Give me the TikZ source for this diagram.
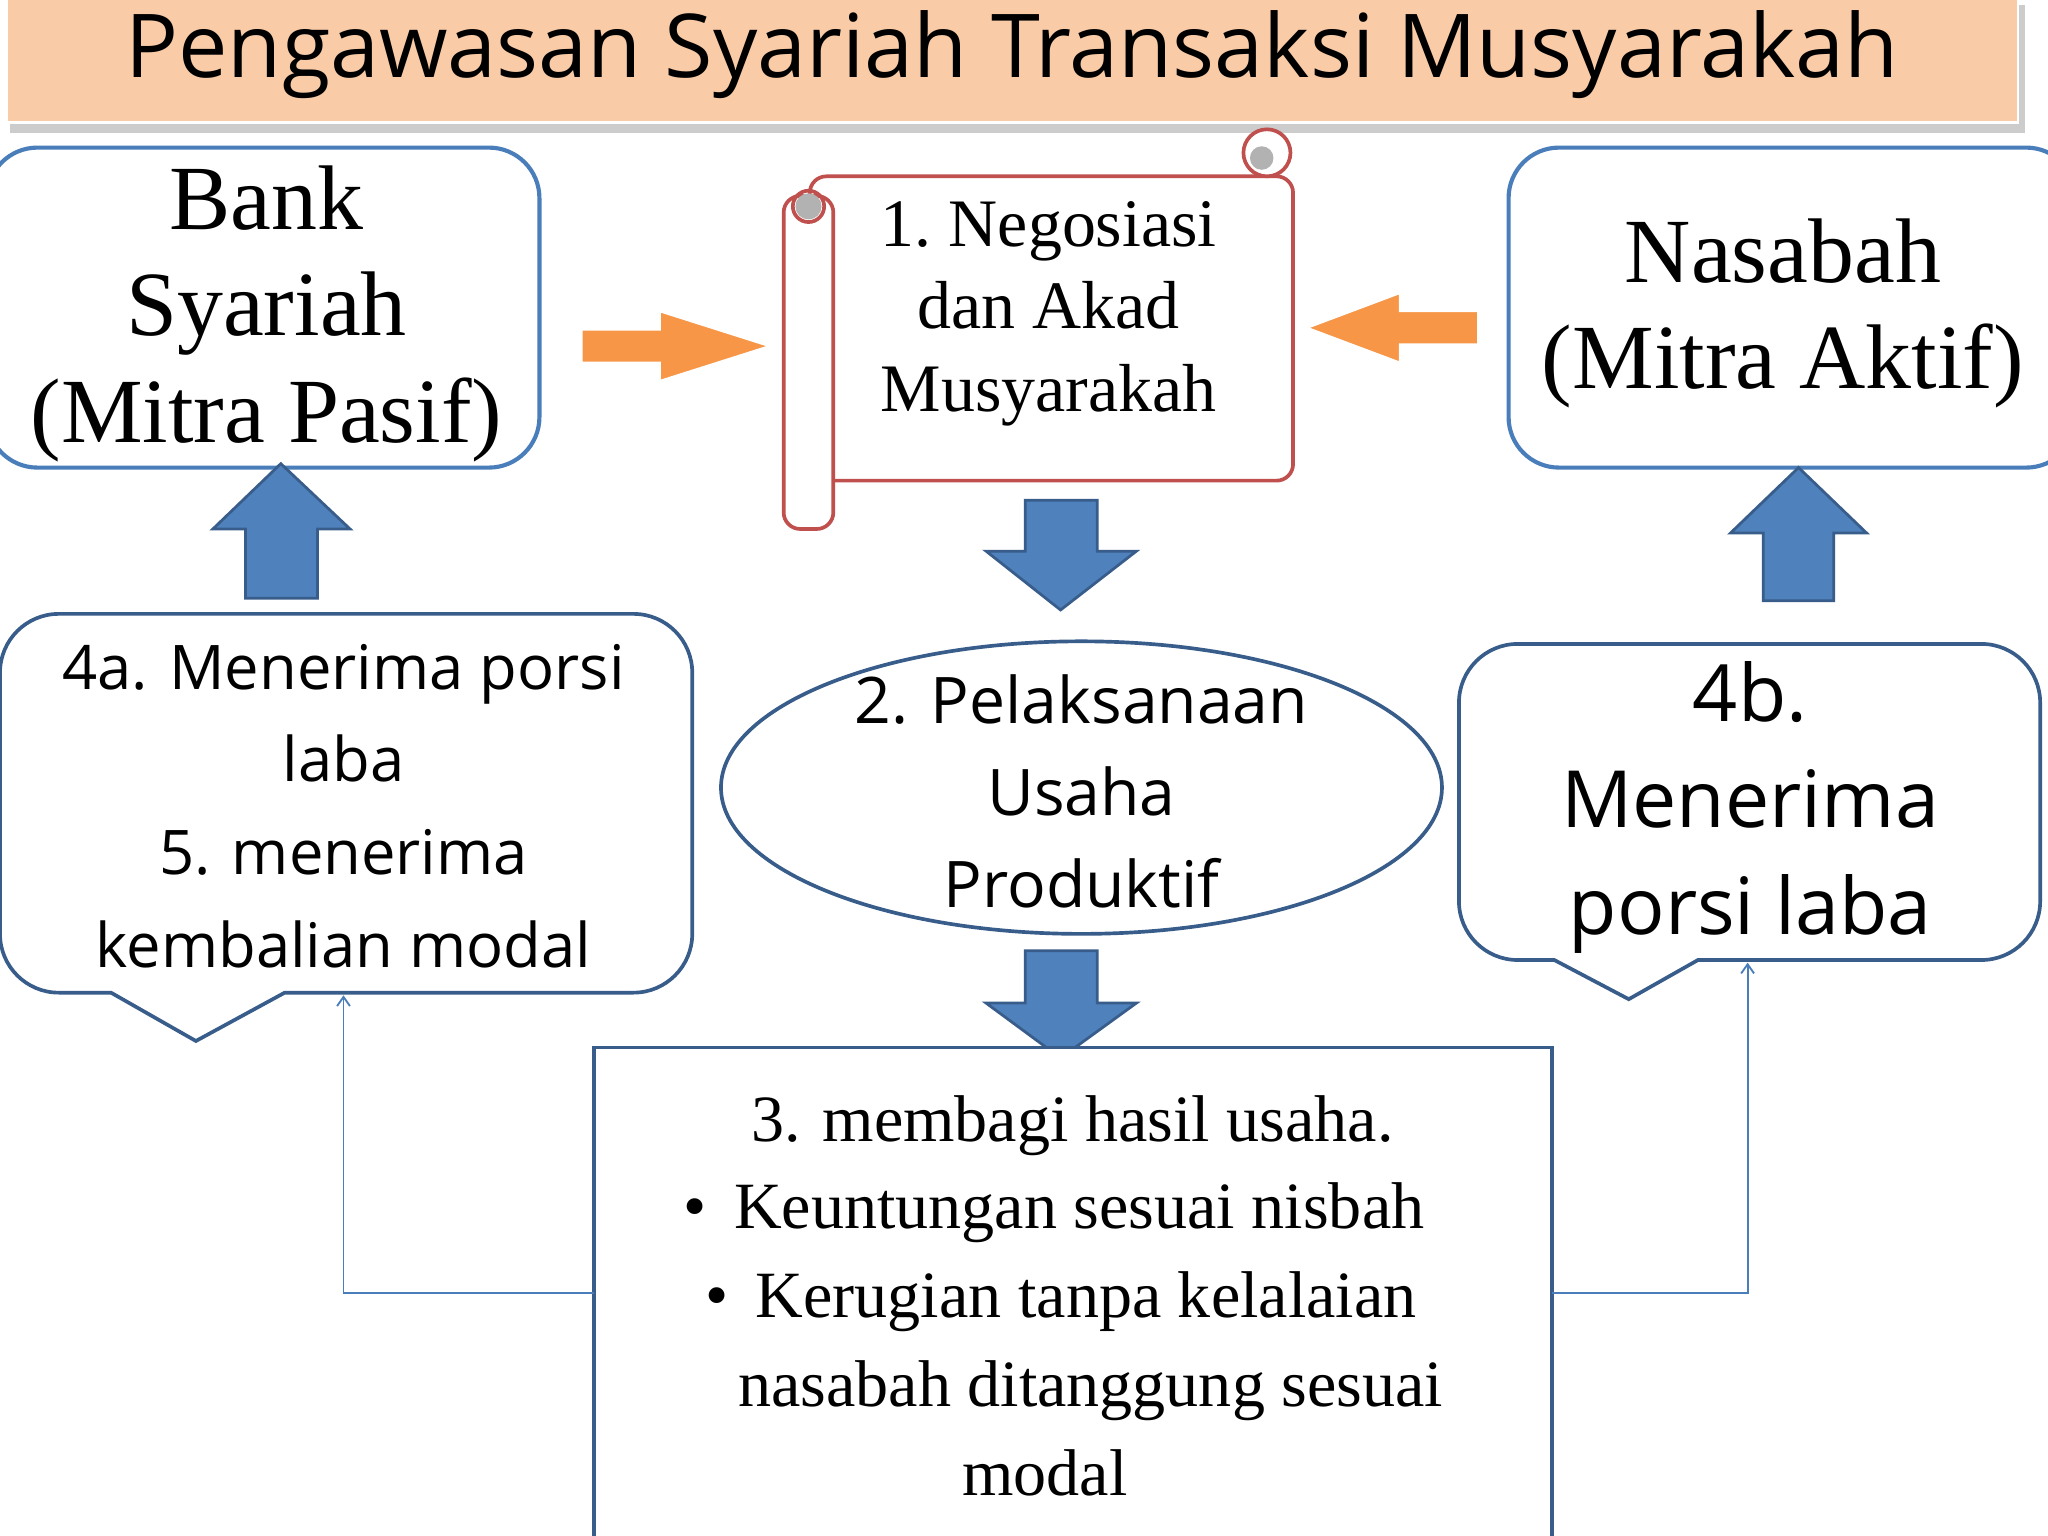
\documentclass[tikz,border=0pt]{standalone}
\usepackage{fontspec}
\setmainfont{Liberation Serif}
\newfontfamily\sansf{Open Sans}
\usetikzlibrary{shapes.geometric,shapes.arrows}
\definecolor{bbord}{HTML}{4A7EBB}
\definecolor{dbord}{HTML}{385D8A}
\definecolor{bfill}{HTML}{4F81BD}
\definecolor{ofill}{HTML}{F79646}
\definecolor{peach}{HTML}{F9CBA7}
\definecolor{sred}{HTML}{C0504D}
\tikzset{
  rbox/.style={draw=bbord,line width=4.5pt,rounded corners=55pt,fill=white},
  blockarrow/.style={fill=bfill,draw=dbord,line width=3pt},
  orangearrow/.style={fill=ofill,draw=white,line width=3pt},
  serif/.style={align=center,font=\fontsize{100}{116}\selectfont},
  thinline/.style={draw=bbord,line width=2pt,-{Straight Barb[length=10pt,width=14pt]}},
}
\usetikzlibrary{arrows.meta}
\begin{document}
\begin{tikzpicture}[x=0.05cm,y=-0.05cm]
\useasboundingbox (0,0) rectangle (1568,1176);
\fill[white] (0,0) rectangle (1568,1176);
% title
\fill[gray!40] (8,4) rectangle (1550,102);
\node[draw=white,line width=3pt,fill=peach,minimum width=1540*0.05cm,minimum height=95*0.05cm,anchor=north west] (title) at (4,-2) {};
\node[font=\sansf\fontsize{96}{110}\selectfont] (tt) at (775,42) {Pengawasan Syariah Transaksi Musyarakah};
% bank
\draw[rbox] (-10,113) rectangle (413,358);
\node[serif] (bank) at (204,240) {Bank\\Syariah\\(Mitra Pasif)};
\draw[rbox] (1155,113) rectangle (1590,358);
\node[serif] (nas) at (1365,240) {Nasabah\\(Mitra Aktif)};
% scroll
\draw[sred,line width=4pt,fill=white,rounded corners=18pt] (620,135) rectangle (990,368);
\draw[sred,line width=4pt,fill=white,rounded corners=18pt] (600,150) rectangle (638,405);
\fill[gray!60] (619,158) circle (10);
\draw[sred,line width=4pt] (619,158) circle (12);
\draw[sred,line width=4pt,fill=white] (970,117) circle (18);
\fill[gray!60] (966,121) circle (9);
\node[align=center,font=\fontsize{74}{90}\selectfont] (nego) at (803,240) {1.\ Negosiasi\\dan Akad\\Musyarakah};
% orange arrows
\draw[orangearrow] (445,252) -- (505,252) -- (505,238) -- (590,265) -- (505,292) -- (505,278) -- (445,278) -- cycle;
\draw[orangearrow] (1132,238) -- (1072,238) -- (1072,224) -- (1000,251) -- (1072,278) -- (1072,264) -- (1132,264) -- cycle;
% blue block arrows
\draw[blockarrow] (188,458) -- (188,405) -- (163,405) -- (215,355) -- (268,405) -- (243,405) -- (243,458) -- cycle;
\draw[blockarrow] (1350,460) -- (1350,408) -- (1325,408) -- (1377,358) -- (1429,408) -- (1404,408) -- (1404,460) -- cycle;
\draw[blockarrow] (785,383) -- (840,383) -- (840,422) -- (870,422) -- (812,467) -- (755,422) -- (785,422) -- cycle;
\draw[blockarrow] (785,728) -- (840,728) -- (840,768) -- (870,768) -- (812,810) -- (755,768) -- (785,768) -- cycle;
% callout 4a
\draw[draw=dbord,line width=4pt,fill=white,rounded corners=0pt]
  (218,760) -- (150,797) -- (85,760) -- (45,760) arc (90:180:45) -- (0,515) arc (180:270:45) -- (485,470) arc (270:360:45) -- (530,715) arc (0:90:45) -- cycle;
\node[align=center,font=\sansf\fontsize{67}{101}\selectfont] (c4a) at (263,617) {4a. Menerima porsi\\laba\\5. menerima\\kembalian modal};
% ellipse
\node[draw=dbord,line width=4pt,ellipse,minimum width=552*0.05cm,minimum height=224*0.05cm,fill=white] (ell) at (828,603) {};
\node[align=center,font=\sansf\fontsize{70}{100}\selectfont] (ellt) at (828,606) {2. Pelaksanaan\\Usaha\\Produktif};
% callout 4b
\draw[draw=dbord,line width=4pt,fill=white]
  (1300,735) -- (1247,765) -- (1190,735) -- (1162,735) arc (90:180:45) -- (1117,538) arc (180:270:45) -- (1517,493) arc (270:360:45) -- (1562,690) arc (0:90:45) -- cycle;
\node[align=center,font=\sansf\fontsize{86}{116}\selectfont] (c4b) at (1340,618) {4b.\\Menerima\\porsi laba};
% bottom box
\draw[draw=dbord,line width=4pt,fill=white] (455,1190) -- (455,802) -- (1188,802) -- (1188,1190);
\coordinate (b3) at (821,990);
\node[align=center,font=\fontsize{72}{97}\selectfont] (t3) at (821,992) {3. membagi hasil usaha.\\[-2pt]
\hspace*{-40pt}\textbullet\hspace{30pt}Keuntungan sesuai nisbah\\
\hspace*{-25pt}\textbullet\hspace{30pt}Kerugian tanpa kelalaian\\
\hspace*{40pt}nasabah ditanggung sesuai\\
\hspace*{-60pt}modal};
% connectors
\coordinate (la) at (455,990);
\coordinate (ra) at (1188,990);
\coordinate (lt) at (263,762);
\coordinate (rt) at (1338,737);
\draw[thinline] (la) -| (lt);
\draw[thinline] (ra) -| (rt);
\end{tikzpicture}
\end{document}
